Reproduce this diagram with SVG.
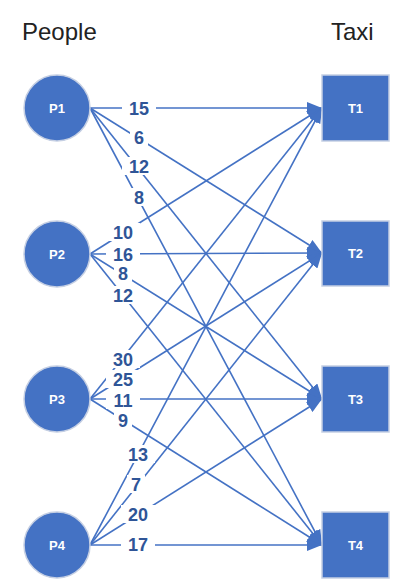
<svg xmlns="http://www.w3.org/2000/svg" width="416" height="588" viewBox="0 0 416 588">
<style>
.title{font-family:"Liberation Sans",Arial,sans-serif;font-size:24px;fill:#222}
.node{fill:#4472C4;stroke:#C5CFE3;stroke-width:1.5}
.nl{font-family:"Liberation Sans",Arial,sans-serif;font-size:13px;font-weight:bold;fill:#fff;text-anchor:middle}
.edge{stroke:#4472C4;stroke-width:1.6;fill:none;marker-end:url(#arr)}
.lb{fill:#fff}
.lt{font-family:"Liberation Sans",Arial,sans-serif;font-size:18px;font-weight:bold;fill:#2F5597;text-anchor:middle}
</style>
<defs>
<marker id="arr" markerUnits="userSpaceOnUse" markerWidth="15" markerHeight="12" refX="15" refY="6" orient="auto">
<path d="M0,0 L15,6 L0,12 z" fill="#4472C4"/>
</marker>
</defs>
<rect width="416" height="588" fill="#fff"/>
<text class="title" x="22" y="40">People</text>
<text class="title" x="331" y="40">Taxi</text>
<g id="connectors">
<line class="edge" x1="90" y1="108" x2="322" y2="108"/>
<line class="edge" x1="90" y1="108" x2="322" y2="253"/>
<line class="edge" x1="90" y1="108" x2="322" y2="399"/>
<line class="edge" x1="90" y1="108" x2="322" y2="545"/>
<line class="edge" x1="90" y1="254" x2="322" y2="108"/>
<line class="edge" x1="90" y1="254" x2="322" y2="253"/>
<line class="edge" x1="90" y1="254" x2="322" y2="399"/>
<line class="edge" x1="90" y1="254" x2="322" y2="545"/>
<line class="edge" x1="90" y1="399" x2="322" y2="108"/>
<line class="edge" x1="90" y1="399" x2="322" y2="253"/>
<line class="edge" x1="90" y1="399" x2="322" y2="399"/>
<line class="edge" x1="90" y1="399" x2="322" y2="545"/>
<line class="edge" x1="90" y1="545" x2="322" y2="108"/>
<line class="edge" x1="90" y1="545" x2="322" y2="253"/>
<line class="edge" x1="90" y1="545" x2="322" y2="399"/>
<line class="edge" x1="90" y1="545" x2="322" y2="545"/>
<g id="labels">
<rect class="lb" x="122" y="99" width="34" height="18"/><text class="lt" x="139" y="114.5">15</text>
<rect class="lb" x="130" y="128" width="18" height="18"/><text class="lt" x="139" y="143.5">6</text>
<rect class="lb" x="122" y="157" width="34" height="18"/><text class="lt" x="139" y="172.5">12</text>
<rect class="lb" x="130" y="188" width="18" height="18"/><text class="lt" x="139" y="203.5">8</text>
<rect class="lb" x="106" y="223" width="34" height="18"/><text class="lt" x="123" y="239">10</text>
<rect class="lb" x="106" y="245" width="34" height="18"/><text class="lt" x="123" y="260.5">16</text>
<rect class="lb" x="114" y="264" width="18" height="18"/><text class="lt" x="123" y="280">8</text>
<rect class="lb" x="106" y="286" width="34" height="18"/><text class="lt" x="123" y="301.5">12</text>
<rect class="lb" x="106" y="350" width="34" height="18"/><text class="lt" x="123" y="365.5">30</text>
<rect class="lb" x="106" y="370" width="34" height="18"/><text class="lt" x="123" y="385.5">25</text>
<rect class="lb" x="106" y="391" width="34" height="18"/><text class="lt" x="123" y="406.5">11</text>
<rect class="lb" x="114" y="411" width="18" height="18"/><text class="lt" x="123" y="426.5">9</text>
<rect class="lb" x="121" y="445" width="34" height="18"/><text class="lt" x="138" y="460.5">13</text>
<rect class="lb" x="127" y="475" width="18" height="18"/><text class="lt" x="136" y="490.5">7</text>
<rect class="lb" x="121" y="505" width="34" height="18"/><text class="lt" x="138" y="520.5">20</text>
<rect class="lb" x="121" y="535" width="34" height="18"/><text class="lt" x="138" y="550.5">17</text>
</g>
</g>
<g id="P1"><circle class="node" cx="57" cy="108" r="33"/><text class="nl" x="57" y="113">P1</text></g>
<g id="P2"><circle class="node" cx="57" cy="254" r="33"/><text class="nl" x="57" y="259">P2</text></g>
<g id="P3"><circle class="node" cx="57" cy="399" r="33"/><text class="nl" x="57" y="404">P3</text></g>
<g id="P4"><circle class="node" cx="57" cy="545" r="33"/><text class="nl" x="57" y="550">P4</text></g>
<g id="T1"><rect class="node" x="322" y="75" width="67" height="66"/><text class="nl" x="355.5" y="113">T1</text></g>
<g id="T2"><rect class="node" x="322" y="221" width="67" height="65"/><text class="nl" x="355.5" y="258">T2</text></g>
<g id="T3"><rect class="node" x="322" y="366" width="67" height="66"/><text class="nl" x="355.5" y="404">T3</text></g>
<g id="T4"><rect class="node" x="322" y="512" width="67" height="66"/><text class="nl" x="355.5" y="550">T4</text></g>
</svg>
